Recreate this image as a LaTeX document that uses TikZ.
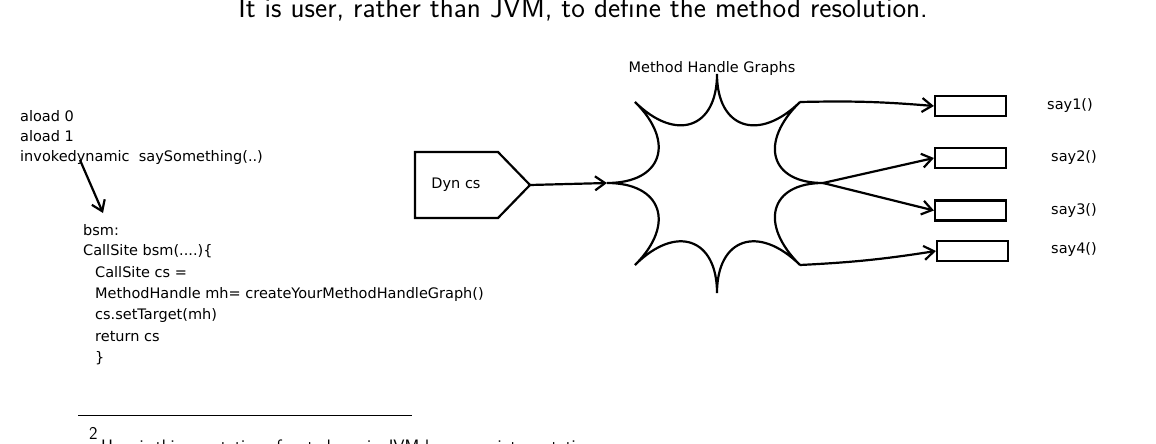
\documentclass[tikz,border=0pt]{standalone}
\usepackage{fontspec}
\newfontfamily\dv{DejaVu Sans}
\usetikzlibrary{arrows.meta,calc}
\begin{document}
\begin{tikzpicture}[x=1pt,y=-1pt,
  txt/.style={font=\dv\fontsize{14.5}{16}\selectfont, inner sep=0pt},
  ln/.style={line width=2.2pt},
  arr/.style={ln,-{Straight Barb[length=10pt,width=14pt,line width=2.2pt]}},
  sbox/.style={draw,line width=2.2pt,minimum width=71pt,minimum height=20pt,inner sep=0pt}]
\clip (0,0) rectangle (1156,444);
\useasboundingbox (0,0) rectangle (1156,444);
\node[font=\sffamily\fontsize{29}{32}\selectfont, anchor=base] (title) at (583,18) {It is user, rather than JVM, to define the method resolution.};
\node[txt,anchor=west] (l1) at (20,116) {aload 0};
\node[txt,anchor=west] (l2) at (20,136) {aload 1};
\node[txt,anchor=west] (l3) at (20,157) {invokedynamic\ \ saySomething(..)};
\node[txt,anchor=west] (b1) at (83,230) {bsm:};
\node[txt,anchor=west] (b2) at (83,251) {CallSite bsm(....)\{};
\node[txt,anchor=west] (b3) at (95,272) {CallSite cs =};
\node[txt,anchor=west] (b4) at (95,294) {MethodHandle mh= createYourMethodHandleGraph()};
\node[txt,anchor=west] (b5) at (95,315) {cs.setTarget(mh)};
\node[txt,anchor=west] (b6) at (95,337) {return cs};
\node[txt,anchor=west] (b7) at (95,358) {\}};
\coordinate (a0) at (80,160);
\coordinate (a1) at (103,213);
\draw[arr] (a0) -- (a1);
% Dyn cs
\draw[ln] (415,152) -- (498,152) -- (530,185) -- (498,218) -- (415,218) -- cycle;
\coordinate (dyn) at (530,185);
\node[txt] (dyntxt) at (456,185) {Dyn cs};
% star
\coordinate (c) at (717,183);
\coordinate (s1) at (717,74);
\coordinate (s2) at (800,102);
\coordinate (s3) at (823,183);
\coordinate (s4) at (800,265);
\coordinate (s5) at (717,293);
\coordinate (s6) at (635,265);
\coordinate (s7) at (607,183);
\coordinate (s8) at (635,102);
\draw[ln,line join=miter]
 (s1) .. controls ($(s1)!0.5!(c)$) and ($(s2)!0.5!(c)$) .. (s2)
      .. controls ($(s2)!0.5!(c)$) and ($(s3)!0.5!(c)$) .. (s3)
      .. controls ($(s3)!0.5!(c)$) and ($(s4)!0.5!(c)$) .. (s4)
      .. controls ($(s4)!0.5!(c)$) and ($(s5)!0.5!(c)$) .. (s5)
      .. controls ($(s5)!0.5!(c)$) and ($(s6)!0.5!(c)$) .. (s6)
      .. controls ($(s6)!0.5!(c)$) and ($(s7)!0.5!(c)$) .. (s7)
      .. controls ($(s7)!0.5!(c)$) and ($(s8)!0.5!(c)$) .. (s8)
      .. controls ($(s8)!0.5!(c)$) and ($(s1)!0.5!(c)$) .. (s1);
\node[txt] (mhg) at (712,68) {Method Handle Graphs};
\draw[arr] (dyn) -- (s7);
% boxes
\node[sbox] (r1) at (970.5,106) {};
\node[sbox] (r2) at (970.5,158) {};
\node[sbox] (r3) at (970.5,210.5) {};
\node[sbox] (r4) at (972.5,251) {};
\node[txt] (t1) at (1070,106) {say1()};
\node[txt] (t2) at (1074,158) {say2()};
\node[txt] (t3) at (1074,211) {say3()};
\node[txt] (t4) at (1074,250) {say4()};
\draw[arr] (s2) to[bend left=3] (r1.west);
\draw[arr] (s3) -- (r2.west);
\draw[arr] (s3) -- (r3.west);
\draw[arr] (s4) to[bend right=3] (r4.west);
% footnote
\draw[line width=1pt] (78,415) -- (412,415);
\node[font=\sffamily\fontsize{18}{20}\selectfont,anchor=base west,inner sep=0pt] (fn2) at (89,439) {2};
\node[font=\sffamily\fontsize{18}{20}\selectfont,anchor=base west,inner sep=0pt] (fn) at (101,452) {Here is this annotation of a study on in JVM has many interpretations};
\end{tikzpicture}
\end{document}
